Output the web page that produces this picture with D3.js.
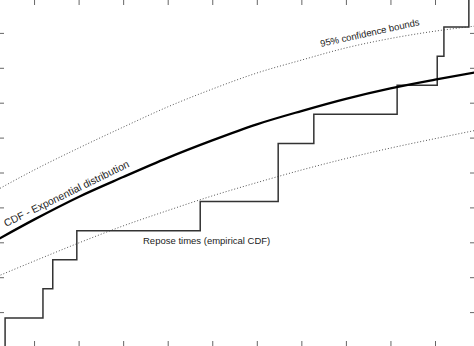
<!DOCTYPE html>
<html>
<head>
<meta charset="utf-8">
<script src="https://cdn.jsdelivr.net/npm/d3@7.9.0/dist/d3.min.js"></script>
<style>
  body { margin: 0; background: #fff; }
  svg { display: block; }
  text { font-family: "Liberation Sans", Arial, sans-serif; fill: #222; }
</style>
</head>
<body>
<svg id="chart" width="474" height="346"></svg>
<script>
// Sorted repose times (arbitrary x units, one tick = 1)
const reposeTimes = [0.35, 1.2, 1.42, 1.96, 4.73, 6.48, 6.48, 7.28, 9.15, 10.05, 10.2, 10.76];

// Curves at every x tick
const xGrid = [0, 1, 2, 3, 4, 5, 6, 7, 8, 9, 10, 11];
const cdfExp = [0.295, 0.365, 0.430, 0.487, 0.542, 0.592, 0.638, 0.676, 0.711, 0.741, 0.766, 0.789];
const upperBound = [0.438, 0.507, 0.570, 0.630, 0.688, 0.739, 0.785, 0.822, 0.857, 0.884, 0.905, 0.921];
const lowerBound = [0.193, 0.246, 0.298, 0.347, 0.391, 0.433, 0.471, 0.507, 0.540, 0.570, 0.597, 0.623];

// Tick positions
const xTicks = [0, 1, 2, 3, 4, 5, 6, 7, 8, 9, 10, 11];
const yTicks = [0, 0.1, 0.2, 0.3, 0.4, 0.5, 0.6, 0.7, 0.8, 0.9, 1];

let svg = d3.select("#chart");

// The plot box is a little larger than the window (cropped figure)
let x = d3.scaleLinear().domain([0, 11]).range([-10.5, 479.55]);
let y = d3.scaleLinear().domain([0, 1]).range([347, -2]);

// Tick marks on all four sides, pointing inward
let tickColor = "#666";
function styleAxis(g) {
    g.select(".domain").remove();
    g.selectAll(".tick line").attr("stroke", tickColor).attr("stroke-width", 1);
}
svg.append("g").attr("transform", "translate(-1,0)")
    .call(d3.axisLeft(y).tickValues(yTicks).tickSize(-5).tickFormat(""))
    .call(styleAxis);
svg.append("g").attr("transform", "translate(475,0)")
    .call(d3.axisRight(y).tickValues(yTicks).tickSize(-5).tickFormat(""))
    .call(styleAxis);
svg.append("g").attr("transform", "translate(0,-1)")
    .call(d3.axisTop(x).tickValues(xTicks).tickSize(-6).tickFormat(""))
    .call(styleAxis);
svg.append("g").attr("transform", "translate(0,347)")
    .call(d3.axisBottom(x).tickValues(xTicks).tickSize(-6).tickFormat(""))
    .call(styleAxis);

// Smooth curves
function curveLine(values) {
    return d3.line()
        .x((d, i) => x(xGrid[i]))
        .y((d) => y(d))
        .curve(d3.curveMonotoneX)(values);
}

// 95% confidence bounds (dotted)
[upperBound, lowerBound].forEach((vals) => {
    svg.append("path")
        .attr("d", curveLine(vals))
        .attr("fill", "none")
        .attr("stroke", "#555")
        .attr("stroke-width", 1)
        .attr("stroke-dasharray", "1,2");
});

// Empirical CDF as a staircase
let n = reposeTimes.length;
let stepPoints = [[0, 0]].concat(reposeTimes.map((t, i) => [t, (i + 1) / n]));
stepPoints.push([11, 1]);
svg.append("path")
    .attr("d", d3.line().x((d) => x(d[0])).y((d) => y(d[1])).curve(d3.curveStepAfter)(stepPoints))
    .attr("fill", "none")
    .attr("stroke", "#333")
    .attr("stroke-width", 1.5);

// Fitted exponential CDF
svg.append("path")
    .attr("d", curveLine(cdfExp))
    .attr("fill", "none")
    .attr("stroke", "#000")
    .attr("stroke-width", 2.3);

// Labels
svg.append("text")
    .attr("transform", "translate(6,227) rotate(-26)")
    .attr("font-size", 10.4)
    .text("CDF - Exponential distribution");

svg.append("text")
    .attr("transform", "translate(321,47) rotate(-12.5)")
    .attr("font-size", 9.5)
    .text("95% confidence bounds");

svg.append("text")
    .attr("x", 143)
    .attr("y", 244)
    .attr("font-size", 9.5)
    .text("Repose times (empirical CDF)");
</script>
</body>
</html>
